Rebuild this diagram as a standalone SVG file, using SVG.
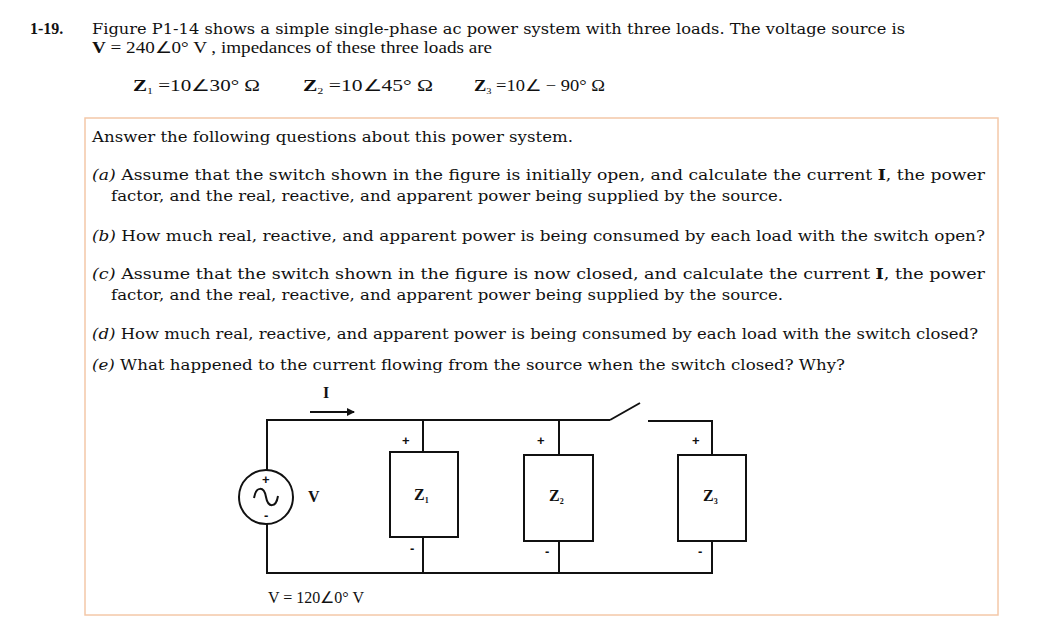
<svg xmlns="http://www.w3.org/2000/svg" width="1052" height="628" viewBox="0 0 1052 628">
<style>
text{font-family:"DejaVu Serif","Liberation Serif",serif;font-size:14.5px;fill:#111}
.t{font-family:"Liberation Serif",serif;font-size:16px}
.b{font-weight:bold}
.w{stroke:#111;stroke-width:2;fill:none}
.s{font-family:"Liberation Sans",sans-serif;font-size:13px;font-weight:bold}
</style>
<rect width="1052" height="628" fill="#fff"/>
<text x="30" y="34" class="b t">1-19.</text>
<text x="92" y="34" textLength="813" lengthAdjust="spacingAndGlyphs">Figure P1-14 shows a simple single-phase ac power system with three loads.  The voltage source is</text>
<text x="92" y="53" class="t" textLength="400" lengthAdjust="spacingAndGlyphs"><tspan class="b">V</tspan> = 240∠0° V , impedances of these three loads are</text>
<text x="133" y="91" class="t" textLength="127" lengthAdjust="spacingAndGlyphs"><tspan class="b">Z</tspan><tspan font-size="9" dy="3">1</tspan><tspan dy="-3"> =10∠30° Ω</tspan></text>
<text x="303" y="91" class="t" textLength="130" lengthAdjust="spacingAndGlyphs"><tspan class="b">Z</tspan><tspan font-size="9" dy="3">2</tspan><tspan dy="-3"> =10∠45° Ω</tspan></text>
<text x="474" y="91" class="t" textLength="131" lengthAdjust="spacingAndGlyphs"><tspan class="b">Z</tspan><tspan font-size="9" dy="3">3</tspan><tspan dy="-3"> =10∠ − 90° Ω</tspan></text>
<rect x="85" y="118" width="913" height="497" fill="none" stroke="#f4c8a8" stroke-width="1.5"/>
<text x="92" y="142" textLength="481" lengthAdjust="spacingAndGlyphs">Answer the following questions about this power system.</text>
<text x="92" y="180" textLength="893" lengthAdjust="spacingAndGlyphs"><tspan font-style="italic">(a)</tspan> Assume that the switch shown in the figure is initially open, and calculate the current <tspan class="b">I</tspan>, the power</text>
<text x="111" y="201" textLength="672" lengthAdjust="spacingAndGlyphs">factor, and the real, reactive, and apparent power being supplied by the source.</text>
<text x="92" y="241" textLength="893" lengthAdjust="spacingAndGlyphs"><tspan font-style="italic">(b)</tspan> How much real, reactive, and apparent power is being consumed by each load with the switch open?</text>
<text x="92" y="279" textLength="893" lengthAdjust="spacingAndGlyphs"><tspan font-style="italic">(c)</tspan> Assume that the switch shown in the figure is now closed, and calculate the current <tspan class="b">I</tspan>, the power</text>
<text x="111" y="300" textLength="672" lengthAdjust="spacingAndGlyphs">factor, and the real, reactive, and apparent power being supplied by the source.</text>
<text x="92" y="339" textLength="886" lengthAdjust="spacingAndGlyphs"><tspan font-style="italic">(d)</tspan> How much real, reactive, and apparent power is being consumed by each load with the switch closed?</text>
<text x="92" y="370" textLength="753" lengthAdjust="spacingAndGlyphs"><tspan font-style="italic">(e)</tspan> What happened to the current flowing from the source when the switch closed?  Why?</text>
<defs><marker id="ar" markerWidth="8" markerHeight="8" refX="7" refY="4" orient="auto" markerUnits="userSpaceOnUse"><path d="M0,0 L8,4 L0,8 z" fill="#111"/></marker></defs>
<g id="connectors">
<path class="w" d="M610,420 H267 V470 M267,524 V573 H712 V541 M712,455 V421 H648 M610,420 L640,403 M423,420 V452 M423,537 V573 M559,420 V455 M559,541 V573"/>
<line x1="310" y1="412" x2="354" y2="412" stroke="#111" stroke-width="2" marker-end="url(#ar)"/>
</g>
<text x="323" y="398" class="b t">I</text>
<g id="source">
<circle cx="266" cy="497" r="27" class="w"/>
<path class="w" d="M254,498 C256,486 264,486 266,497 C268,508 276,508 278,496"/>
<text x="262" y="484" class="s">+</text><text x="264" y="520" class="s">-</text>
<text x="308" y="502" class="b t" font-size="14">V</text>
</g>
<g id="z1"><rect x="390" y="452" width="68" height="85" class="w"/><text x="414" y="500" class="b t" font-size="14">Z<tspan font-size="8" dy="3">1</tspan></text><text x="402" y="445" class="s">+</text><text x="410" y="553" class="s">-</text></g>
<g id="z2"><rect x="524" y="455" width="69" height="86" class="w"/><text x="549" y="501" class="b t" font-size="14">Z<tspan font-size="8" dy="3">2</tspan></text><text x="537" y="445" class="s">+</text><text x="545" y="556" class="s">-</text></g>
<g id="z3"><rect x="678" y="455" width="68" height="86" class="w"/><text x="703" y="501" class="b t" font-size="14">Z<tspan font-size="8" dy="3">3</tspan></text><text x="692" y="445" class="s">+</text><text x="698" y="556" class="s">-</text></g>
<text x="268" y="603" class="t" font-size="15">V = 120∠0° V</text>
</svg>
